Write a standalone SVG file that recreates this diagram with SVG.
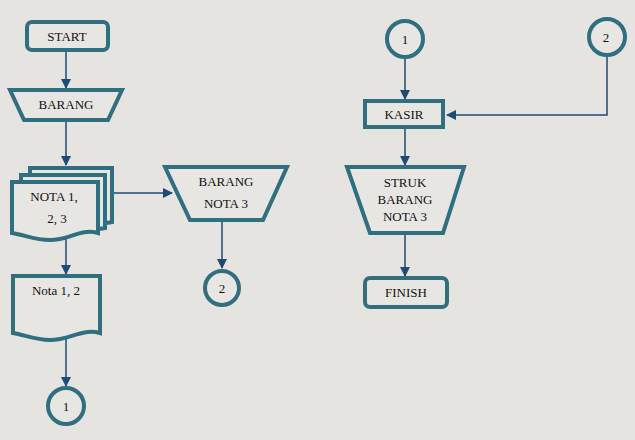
<svg xmlns="http://www.w3.org/2000/svg" width="635" height="440" viewBox="0 0 635 440">
<style>
.s{fill:#e8e6e2;stroke:#2f6f80;stroke-width:4}
.t{font-family:"Liberation Serif",serif;font-size:13px;fill:#111;text-anchor:middle}
.c{fill:none;stroke:#1d4b74;stroke-width:1.5;marker-end:url(#a)}
</style>
<defs><marker id="a" markerWidth="10" markerHeight="10" refX="9" refY="5" orient="auto" markerUnits="userSpaceOnUse"><path d="M0,0 L10,5 L0,10 z" fill="#1d4b74"/></marker></defs>
<rect width="635" height="440" fill="#e6e4e0"/>
<g id="connectors">
<path class="c" d="M66,50 V88"/>
<path class="c" d="M66,120 V165"/>
<path class="c" d="M66,238 V274"/>
<path class="c" d="M66,334 V386"/>
<path class="c" d="M113,193 H172"/>
<path class="c" d="M222,220 V268"/>
<path class="c" d="M405,57 V99"/>
<path class="c" d="M607,55 V115 H447"/>
<path class="c" d="M405,127 V165"/>
<path class="c" d="M405,233 V276"/>
</g>
<g id="start"><rect class="s" x="27" y="22" width="81" height="28" rx="5"/><text class="t" x="67" y="41">START</text></g>
<g id="barang"><path class="s" d="M10,90 H122 L108,120 H24 Z"/><text class="t" x="66" y="109">BARANG</text></g>
<g id="nota123">
<path class="s" d="M30,168 H112 V222 C100,224 95,226 30,222 Z"/>
<path class="s" d="M21,175 H105 V228 C92,230 86,232 21,228 Z"/>
<path class="s" d="M12,182 H98 V233 C80,228 70,240 50,240 C35,240 25,235 12,233 Z"/>
<text class="t" x="54" y="201">NOTA 1,</text><text class="t" x="57" y="223">2, 3</text>
</g>
<g id="barangnota3"><path class="s" d="M165,167 H287 L263,220 H190 Z"/><text class="t" x="226" y="186">BARANG</text><text class="t" x="226" y="208">NOTA 3</text></g>
<g id="c2a"><circle class="s" cx="222" cy="288" r="17"/><text class="t" x="222" y="293">2</text></g>
<g id="nota12"><path class="s" d="M13,276 H100 V333 C82,328 70,340 50,340 C35,340 25,335 13,333 Z"/><text class="t" x="56" y="295">Nota 1, 2</text></g>
<g id="c1a"><circle class="s" cx="66" cy="406" r="18"/><text class="t" x="66" y="411">1</text></g>
<g id="c1b"><circle class="s" cx="405" cy="39" r="18"/><text class="t" x="405" y="44">1</text></g>
<g id="c2b"><circle class="s" cx="607" cy="37" r="18"/><text class="t" x="606" y="42">2</text></g>
<g id="kasir"><rect class="s" x="365" y="101" width="78" height="26"/><text class="t" x="404" y="119">KASIR</text></g>
<g id="struk"><path class="s" d="M347,167 H464 L443,233 H370 Z"/><text class="t" x="405" y="187">STRUK</text><text class="t" x="405" y="204">BARANG</text><text class="t" x="405" y="221">NOTA 3</text></g>
<g id="finish"><rect class="s" x="365" y="278" width="82" height="29" rx="5"/><text class="t" x="406" y="297">FINISH</text></g>
</svg>
